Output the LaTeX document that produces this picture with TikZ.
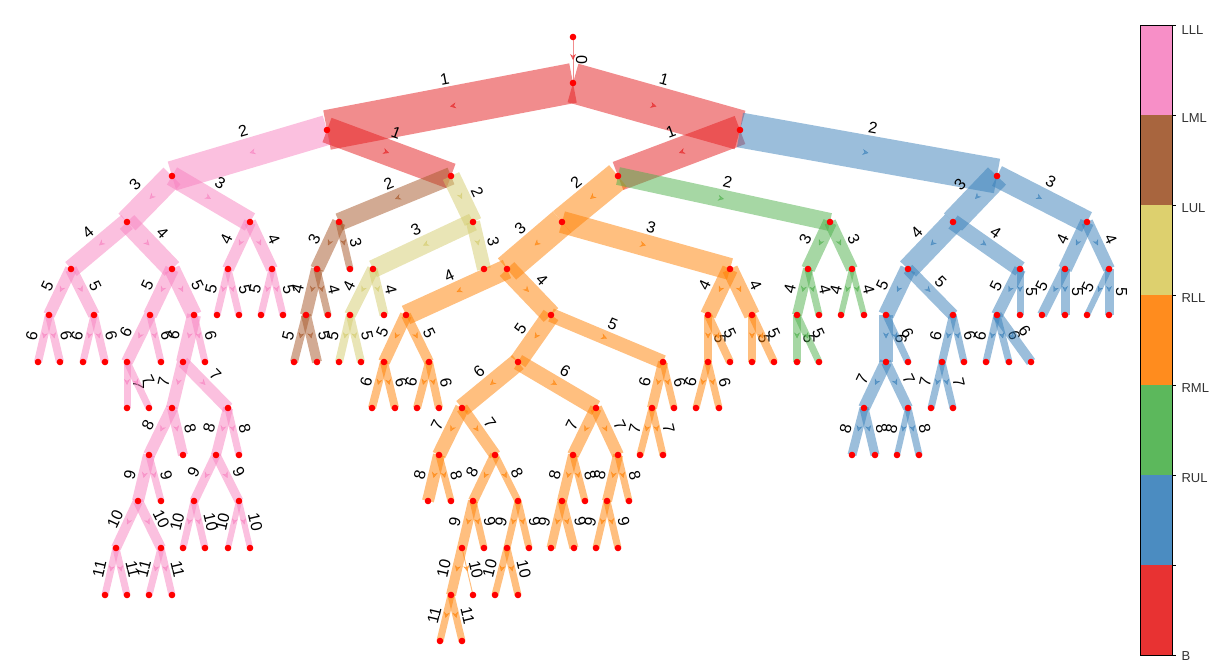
\documentclass[tikz,border=0pt]{standalone}
\usepackage{fontspec}
\setmainfont{Liberation Sans}
\usetikzlibrary{arrows.meta,decorations.markings}
\pgfdeclarelayer{fg}
\pgfsetlayers{main,fg}
\definecolor{cR}{HTML}{E41A1C}
\definecolor{cP}{HTML}{F781BF}
\definecolor{cM}{HTML}{A65628}
\definecolor{cY}{HTML}{D3CB6D}
\definecolor{cO}{HTML}{FF7F00}
\definecolor{cG}{HTML}{4DAF4A}
\definecolor{cB}{HTML}{377EB8}
\definecolor{bP}{RGB}{247,143,199}
\definecolor{bM}{RGB}{168,101,62}
\definecolor{bY}{RGB}{221,208,110}
\definecolor{bO}{RGB}{255,140,30}
\definecolor{bG}{RGB}{92,184,92}
\definecolor{bB}{RGB}{75,140,193}
\definecolor{bR}{RGB}{232,50,50}
\newcommand\lab{\fontsize{16}{16}\selectfont}
\tikzset{
  dot/.style={fill=red},
  edge/.style={draw opacity=.5, line cap=butt},
  elab/.style={pos=.5, sloped, font=\lab, text=black, inner sep=1pt},
  barlab/.style={anchor=west, font=\fontsize{13}{13}\selectfont, text=black!80}
}
\newcommand\E[7]{%
  \coordinate (n#4x#5) at (#4,#5);
  \draw[edge, draw=#1, line width=#7pt] (n#2x#3) -- (n#4x#5)
    node[elab, above=1.5pt] {#6};
  \path[decoration={markings, mark=at position .5 with {\arrow[#1, opacity=.6]{Stealth[length=6pt,width=6pt]}}}, postaction=decorate] (n#2x#3) -- (n#4x#5);
  \begin{pgfonlayer}{fg}\fill[dot] (n#4x#5) circle (3.3pt);\end{pgfonlayer}}
\begin{document}
\begin{tikzpicture}[x=1pt,y=-1pt]
\useasboundingbox (0,0) rectangle (1220,671);
\coordinate (n573x37) at (573,37);
\begin{pgfonlayer}{fg}\fill[dot] (n573x37) circle (3.3pt);\end{pgfonlayer}
% red
\E{cR}{573}{37}{573}{83}{0}{1}
\E{cR}{573}{83}{327}{130}{1}{40}
\E{cR}{573}{83}{740}{130}{1}{40}
% pink
\E{cP}{327}{130}{172}{176}{2}{30}
\E{cP}{172}{176}{127}{222}{3}{24}
\E{cP}{172}{176}{250}{222}{3}{20}
\E{cP}{127}{222}{71}{269}{4}{18}
\E{cP}{127}{222}{172}{269}{4}{20}
\E{cP}{250}{222}{228}{269}{4}{12}
\E{cP}{250}{222}{272}{269}{4}{12}
\E{cP}{71}{269}{49}{315}{5}{12}
\E{cP}{71}{269}{94}{315}{5}{12}
\E{cP}{172}{269}{150}{315}{5}{14}
\E{cP}{172}{269}{194}{315}{5}{16}
\E{cP}{228}{269}{217}{315}{5}{7}
\E{cP}{228}{269}{239}{315}{5}{7}
\E{cP}{272}{269}{261}{315}{5}{7}
\E{cP}{272}{269}{283}{315}{5}{7}
\E{cP}{49}{315}{38}{362}{6}{8}
\E{cP}{49}{315}{60}{362}{6}{8}
\E{cP}{94}{315}{83}{362}{6}{7}
\E{cP}{94}{315}{105}{362}{6}{8}
\E{cP}{150}{315}{127}{362}{6}{12}
\E{cP}{150}{315}{161}{362}{6}{7}
\E{cP}{194}{315}{183}{362}{6}{14}
\E{cP}{194}{315}{205}{362}{6}{7}
\E{cP}{127}{362}{127}{408}{7}{7}
\E{cP}{127}{362}{149}{408}{7}{7}
\E{cP}{183}{362}{172}{408}{7}{12}
\E{cP}{183}{362}{228}{408}{7}{12}
\E{cP}{172}{408}{149}{455}{8}{12}
\E{cP}{172}{408}{183}{455}{8}{10}
\E{cP}{228}{408}{216}{455}{8}{10}
\E{cP}{228}{408}{239}{455}{8}{7}
\E{cP}{149}{455}{138}{501}{9}{12}
\E{cP}{149}{455}{161}{501}{9}{7}
\E{cP}{216}{455}{194}{501}{9}{9}
\E{cP}{216}{455}{239}{501}{9}{9}
\E{cP}{138}{501}{116}{548}{10}{10}
\E{cP}{138}{501}{161}{548}{10}{10}
\E{cP}{194}{501}{183}{548}{10}{7}
\E{cP}{194}{501}{205}{548}{10}{7}
\E{cP}{239}{501}{228}{548}{10}{6}
\E{cP}{239}{501}{250}{548}{10}{6}
\E{cP}{116}{548}{105}{595}{11}{7}
\E{cP}{116}{548}{127}{595}{11}{7}
\E{cP}{161}{548}{149}{595}{11}{7}
\E{cP}{161}{548}{172}{595}{11}{7}
% red inner
\E{cR}{327}{130}{451}{176}{1}{26}
\E{cR}{740}{130}{618}{176}{1}{30}
% brown
\E{cM}{451}{176}{339}{222}{2}{18}
\E{cM}{339}{222}{317}{269}{3}{14}
\E{cM}{339}{222}{350}{269}{3}{7}
\E{cM}{317}{269}{306}{315}{4}{12}
\E{cM}{317}{269}{328}{315}{4}{7}
\E{cM}{306}{315}{294}{362}{5}{8}
\E{cM}{306}{315}{317}{362}{5}{10}
% yellow
\E{cY}{451}{176}{473}{222}{2}{18}
\E{cY}{473}{222}{373}{269}{3}{18}
\E{cY}{473}{222}{484}{269}{3}{14}
\E{cY}{373}{269}{350}{315}{4}{12}
\E{cY}{373}{269}{384}{315}{4}{9}
\E{cY}{350}{315}{339}{362}{5}{8}
\E{cY}{350}{315}{361}{362}{5}{8}
% orange
\E{cO}{618}{176}{562}{222}{2}{28}
\E{cO}{562}{222}{507}{269}{3}{28}
\E{cO}{562}{222}{730}{269}{3}{22}
\E{cO}{507}{269}{406}{315}{4}{20}
\E{cO}{507}{269}{551}{315}{4}{20}
\E{cO}{406}{315}{384}{362}{5}{12}
\E{cO}{406}{315}{429}{362}{5}{10}
\E{cO}{551}{315}{518}{362}{5}{18}
\E{cO}{551}{315}{663}{362}{5}{14}
\E{cO}{384}{362}{372}{408}{6}{8}
\E{cO}{384}{362}{395}{408}{6}{8}
\E{cO}{429}{362}{417}{408}{6}{8}
\E{cO}{429}{362}{439}{408}{6}{8}
\E{cO}{518}{362}{462}{408}{6}{18}
\E{cO}{518}{362}{596}{408}{6}{16}
\E{cO}{663}{362}{652}{408}{6}{10}
\E{cO}{663}{362}{674}{408}{6}{7}
\E{cO}{730}{269}{708}{315}{4}{16}
\E{cO}{730}{269}{752}{315}{4}{16}
\E{cO}{708}{315}{708}{362}{5}{8}
\E{cO}{708}{315}{730}{362}{5}{8}
\E{cO}{752}{315}{752}{362}{5}{8}
\E{cO}{752}{315}{774}{362}{5}{8}
\E{cO}{708}{362}{696}{408}{6}{7}
\E{cO}{708}{362}{719}{408}{6}{7}
\E{cO}{462}{408}{439}{455}{7}{14}
\E{cO}{462}{408}{495}{455}{7}{12}
\E{cO}{596}{408}{573}{455}{7}{12}
\E{cO}{596}{408}{618}{455}{7}{12}
\E{cO}{652}{408}{640}{455}{7}{7}
\E{cO}{652}{408}{663}{455}{7}{7}
\E{cO}{439}{455}{428}{501}{8}{12}
\E{cO}{439}{455}{451}{501}{8}{7}
\E{cO}{495}{455}{473}{501}{8}{10}
\E{cO}{495}{455}{518}{501}{8}{7}
\E{cO}{573}{455}{562}{501}{8}{10}
\E{cO}{573}{455}{585}{501}{8}{7}
\E{cO}{618}{455}{607}{501}{8}{10}
\E{cO}{618}{455}{629}{501}{8}{7}
\E{cO}{473}{501}{462}{548}{9}{10}
\E{cO}{473}{501}{484}{548}{9}{7}
\E{cO}{518}{501}{507}{548}{9}{7}
\E{cO}{518}{501}{529}{548}{9}{7}
\E{cO}{562}{501}{551}{548}{9}{9}
\E{cO}{562}{501}{574}{548}{9}{9}
\E{cO}{607}{501}{596}{548}{9}{7}
\E{cO}{607}{501}{618}{548}{9}{7}
\E{cO}{462}{548}{451}{595}{10}{10}
\E{cO}{462}{548}{473}{595}{10}{1}
\E{cO}{507}{548}{495}{595}{10}{7}
\E{cO}{507}{548}{518}{595}{10}{7}
\E{cO}{451}{595}{440}{641}{11}{7}
\E{cO}{451}{595}{462}{641}{11}{7}
% green
\E{cG}{618}{176}{830}{222}{2}{18}
\E{cG}{830}{222}{808}{269}{3}{14}
\E{cG}{830}{222}{852}{269}{3}{12}
\E{cG}{808}{269}{797}{315}{4}{10}
\E{cG}{808}{269}{819}{315}{4}{7}
\E{cG}{852}{269}{841}{315}{4}{6}
\E{cG}{852}{269}{864}{315}{4}{6}
\E{cG}{797}{315}{797}{362}{5}{8}
\E{cG}{797}{315}{819}{362}{5}{7}
% blue
\E{cB}{740}{130}{997}{176}{2}{35}
\E{cB}{997}{176}{953}{222}{3}{25}
\E{cB}{997}{176}{1087}{222}{3}{22}
\E{cB}{953}{222}{908}{269}{4}{22}
\E{cB}{953}{222}{1020}{269}{4}{16}
\E{cB}{1087}{222}{1065}{269}{4}{14}
\E{cB}{1087}{222}{1109}{269}{4}{12}
\E{cB}{908}{269}{886}{315}{5}{16}
\E{cB}{908}{269}{953}{315}{5}{12}
\E{cB}{1020}{269}{997}{315}{5}{12}
\E{cB}{1020}{269}{1020}{315}{5}{7}
\E{cB}{1065}{269}{1042}{315}{5}{10}
\E{cB}{1065}{269}{1065}{315}{5}{9}
\E{cB}{1109}{269}{1087}{315}{5}{6}
\E{cB}{1109}{269}{1109}{315}{5}{9}
\E{cB}{886}{315}{886}{362}{6}{14}
\E{cB}{886}{315}{908}{362}{6}{7}
\E{cB}{953}{315}{942}{362}{6}{8}
\E{cB}{953}{315}{964}{362}{6}{7}
\E{cB}{997}{315}{986}{362}{6}{7}
\E{cB}{997}{315}{1009}{362}{6}{7}
\E{cB}{997}{315}{1031}{362}{6}{10}
\E{cB}{886}{362}{864}{408}{7}{12}
\E{cB}{886}{362}{908}{408}{7}{10}
\E{cB}{942}{362}{931}{408}{7}{7}
\E{cB}{942}{362}{953}{408}{7}{7}
\E{cB}{864}{408}{852}{455}{8}{9}
\E{cB}{864}{408}{875}{455}{8}{9}
\E{cB}{908}{408}{897}{455}{8}{6}
\E{cB}{908}{408}{919}{455}{8}{7}
% colorbar
\foreach \c [count=\i from 0] in {bP,bM,bY,bO,bG,bB,bR}
  \fill[\c] (1140,{25+90*\i}) rectangle (1172,{25+90*(\i+1)});
\draw[line width=.6pt] (1140,25) rectangle (1172,655);
\foreach \i in {0,...,7} \draw[line width=.6pt] (1172,{25+90*\i}) -- (1176,{25+90*\i});
\node[barlab] (t1) at (1178,30) {LLL};
\node[barlab] (t2) at (1178,118) {LML};
\node[barlab] (t3) at (1178,208) {LUL};
\node[barlab] (t4) at (1178,298) {RLL};
\node[barlab] (t5) at (1178,388) {RML};
\node[barlab] (t6) at (1178,478) {RUL};
\node[barlab] (t7) at (1178,656) {B};
\end{tikzpicture}
\end{document}
